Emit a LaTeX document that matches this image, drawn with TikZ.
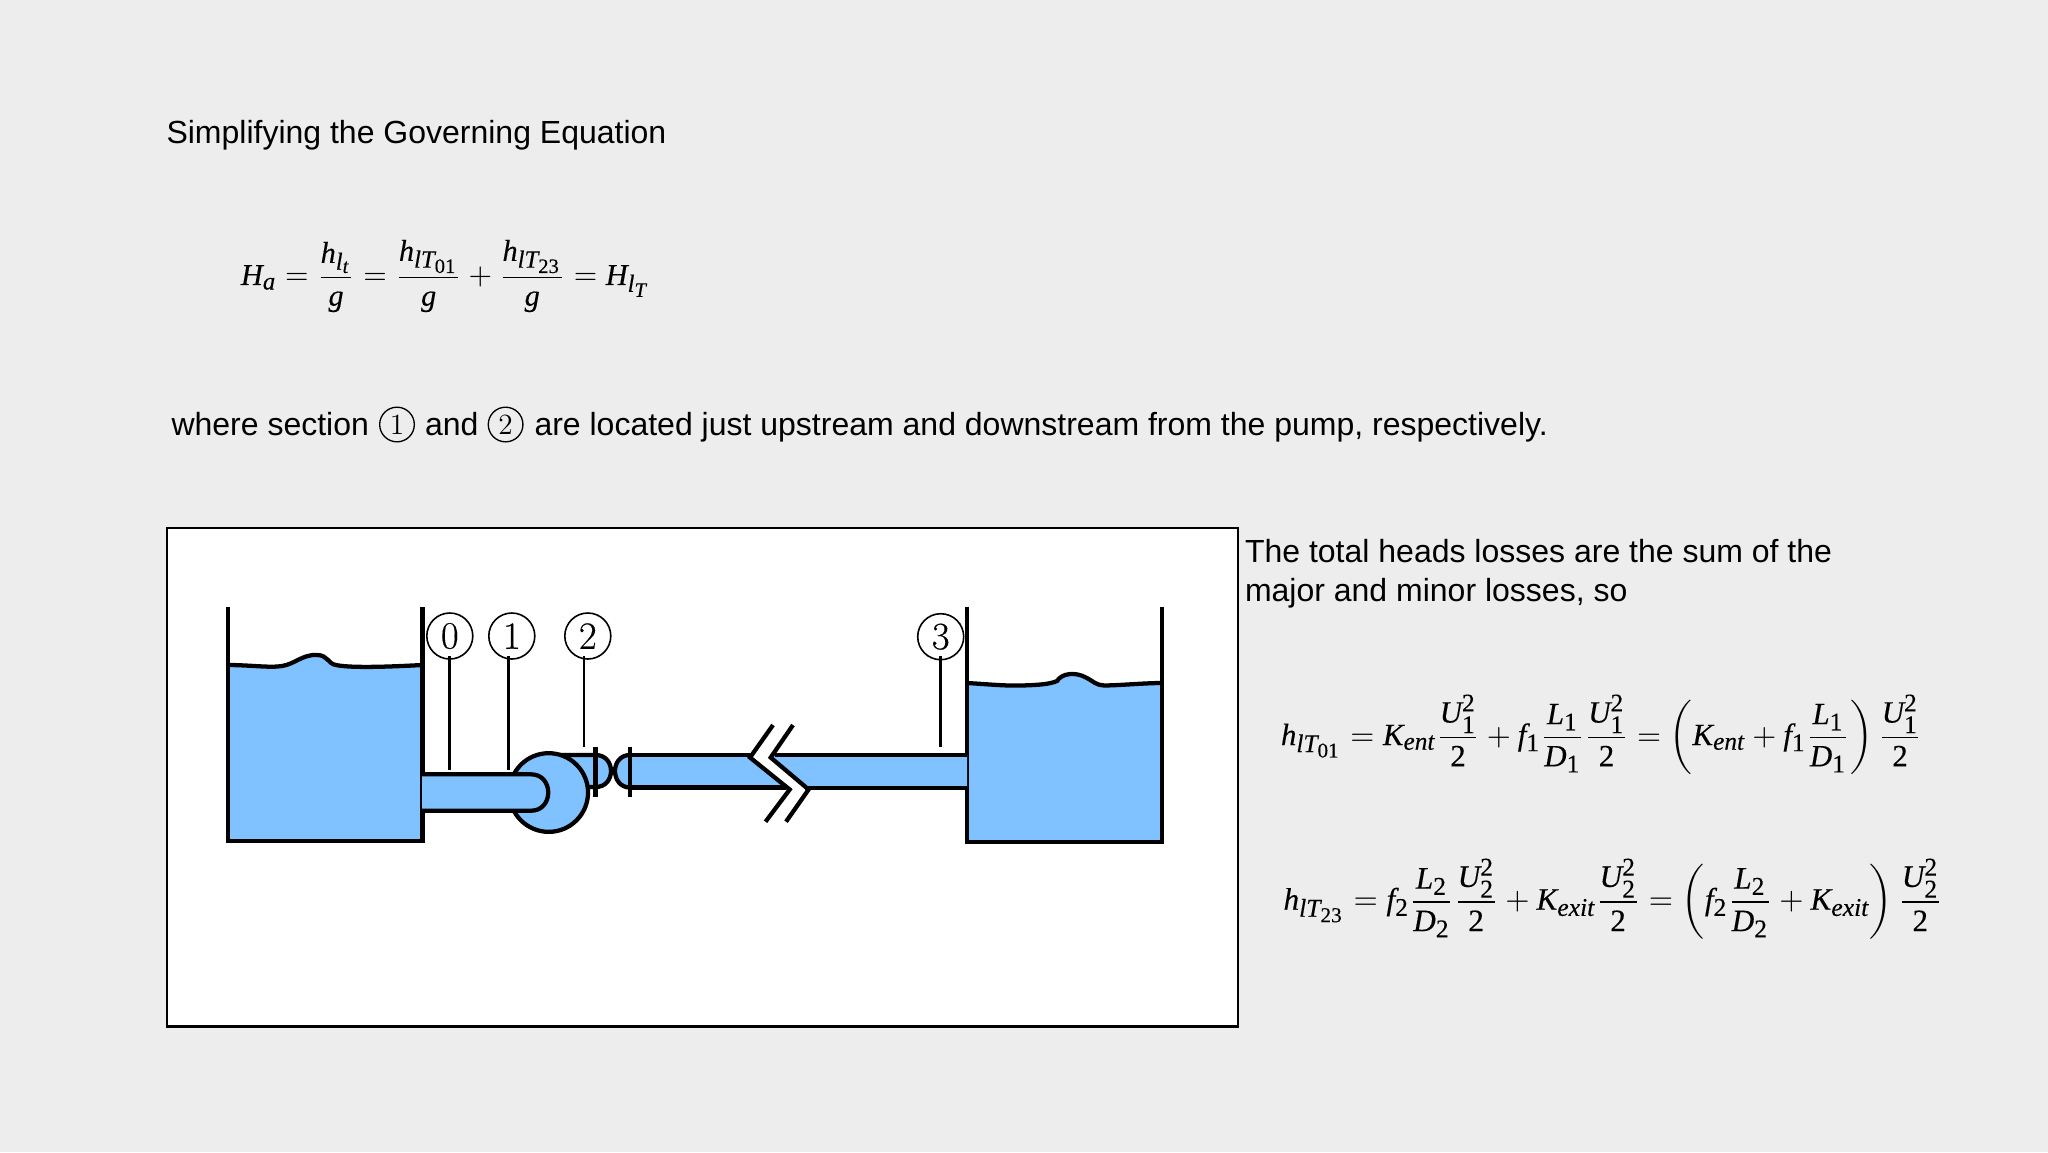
\documentclass[tikz,border=0pt]{standalone}
\usepackage[no-math]{fontspec}
\usepackage{amsmath}
\usepackage{graphicx}
\DeclareMathSizes{10}{10}{8.2}{6.8}
\newfontfamily\bodyfont{Liberation Sans}
\newfontfamily\markfont{Latin Modern Roman}[FakeBold=0.3]
\newfontfamily\mserif{Liberation Serif}[NFSSFamily=LibSerM,FakeBold=0.25]
\DeclareSymbolFont{serifit}{TU}{LibSerM}{m}{it}
\DeclareSymbolFont{serifup}{TU}{LibSerM}{m}{n}
\DeclareMathSymbol{H}{\mathalpha}{serifit}{`H}
\DeclareMathSymbol{a}{\mathalpha}{serifit}{`a}
\DeclareMathSymbol{h}{\mathalpha}{serifit}{`h}
\DeclareMathSymbol{l}{\mathalpha}{serifit}{`l}
\DeclareMathSymbol{t}{\mathalpha}{serifit}{`t}
\DeclareMathSymbol{g}{\mathalpha}{serifit}{`g}
\DeclareMathSymbol{T}{\mathalpha}{serifit}{`T}
\DeclareMathSymbol{K}{\mathalpha}{serifit}{`K}
\DeclareMathSymbol{e}{\mathalpha}{serifit}{`e}
\DeclareMathSymbol{n}{\mathalpha}{serifit}{`n}
\DeclareMathSymbol{f}{\mathalpha}{serifit}{`f}
\DeclareMathSymbol{U}{\mathalpha}{serifit}{`U}
\DeclareMathSymbol{L}{\mathalpha}{serifit}{`L}
\DeclareMathSymbol{D}{\mathalpha}{serifit}{`D}
\DeclareMathSymbol{x}{\mathalpha}{serifit}{`x}
\DeclareMathSymbol{i}{\mathalpha}{serifit}{`i}
\DeclareMathSymbol{0}{\mathalpha}{serifup}{`0}
\DeclareMathSymbol{1}{\mathalpha}{serifup}{`1}
\DeclareMathSymbol{2}{\mathalpha}{serifup}{`2}
\DeclareMathSymbol{3}{\mathalpha}{serifup}{`3}
\definecolor{pagebg}{HTML}{EDEDED}
\definecolor{water}{HTML}{80C2FF}
\tikzset{
  x=0.375pt,y=-0.375pt,
  heavy/.style={line width=1.6pt,line join=miter,line cap=butt},
  watershape/.style={fill=water,draw=none},
  leader/.style={line width=1.05pt},
  secmark/.style={circle,draw=black,line width=0.6pt,fill=white,minimum size=17.25pt,inner sep=0pt,font=\markfont\fontsize{14.5}{16}\selectfont},
  inlinemark/.style={circle,draw=black,line width=0.5pt,minimum size=13pt,inner sep=0pt,font=\fontsize{11}{13}\selectfont},
  bodytext/.style={anchor=base west,inner sep=0pt,font=\bodyfont\fontsize{12}{14}\selectfont},
  eqn/.style={inner sep=0pt}
}
\begin{document}
\begin{tikzpicture}
\useasboundingbox (0,0) rectangle (2048,1152);
\fill[pagebg] (0,0) rectangle (2048,1152);

% texts
\node[bodytext] (title) at (166,143) {Simplifying the Governing Equation};
\node[bodytext] (w1) at (171,435.4) {where section};
\node[inlinemark] (m1) at (397,424.5) {1};
\node[bodytext] (w2) at (424.5,435.4) {and};
\node[inlinemark] (m2) at (505.6,424.5) {2};
\node[bodytext] (w3) at (534,435.4) {are located just upstream and downstream from the pump, respectively.};
\node[bodytext] (t1) at (1244.5,562.5) {The total heads losses are the sum of the};
\node[bodytext] (t2) at (1244.5,601) {major and minor losses, so};

% equations
\node[eqn] (eq1) at (445,276) {\resizebox{153pt}{!}{$\displaystyle H_a=\frac{h_{l_t}}{g}=\frac{h_{lT_{01}}}{g}+\frac{h_{lT_{23}}}{g}=H_{l_T}$}};
\node[eqn] (eq2) at (1601.5,734.5) {\resizebox{240.4pt}{!}{$\displaystyle h_{lT_{01}}=K_{ent}\frac{U_1^2}{2}+f_1\frac{L_1}{D_1}\frac{U_1^2}{2}=\left(K_{ent}+f_1\frac{L_1}{D_1}\right)\frac{U_1^2}{2}$}};
\node[eqn] (eq3) at (1613,899) {\resizebox{247.1pt}{!}{$\displaystyle h_{lT_{23}}=f_2\frac{L_2}{D_2}\frac{U_2^2}{2}+K_{exit}\frac{U_2^2}{2}=\left(f_2\frac{L_2}{D_2}+K_{exit}\right)\frac{U_2^2}{2}$}};

% frame
\draw[fill=white,line width=0.8pt] (167,528) rectangle (1238,1026.5);

% left tank
\fill[watershape] (228,665) .. controls (250,665) and (270,668) .. (282,666)
  .. controls (295,664) and (303,654) .. (317,655)
  .. controls (328,655) and (328,664) .. (336,665)
  .. controls (350,668) and (385,667) .. (422,665) -- (422,841) -- (228,841) -- cycle;
\draw[line width=1.6pt] (228,665) .. controls (250,665) and (270,668) .. (282,666)
  .. controls (295,664) and (303,654) .. (317,655)
  .. controls (328,655) and (328,664) .. (336,665)
  .. controls (350,668) and (385,667) .. (422,665);
\draw[heavy] (228,606.7) -- (228,841.3) -- (422.4,841.3) -- (422.4,606.7);

% right tank
\fill[watershape] (967,683) .. controls (985,684) and (1005,686) .. (1021,685.5)
  .. controls (1040,685) and (1050,684) .. (1057,681)
  .. controls (1062,673) and (1075,672) .. (1085,677)
  .. controls (1095,682) and (1095,685) .. (1105,685.5)
  .. controls (1125,685) and (1145,683) .. (1162,683) -- (1162,841) -- (967,841) -- cycle;
\draw[line width=1.6pt] (967,683) .. controls (985,684) and (1005,686) .. (1021,685.5)
  .. controls (1040,685) and (1050,684) .. (1057,681)
  .. controls (1062,673) and (1075,672) .. (1085,677)
  .. controls (1095,682) and (1095,685) .. (1105,685.5)
  .. controls (1125,685) and (1145,683) .. (1162,683);
\draw[heavy] (967.2,606.7) -- (967.2,841.7) -- (1162,841.7) -- (1162,606.7);

% outlet stub and its flange
\fill[watershape] (550,755) -- (595.5,755) .. controls (606,755) and (611,763) .. (611,771)
  .. controls (611,779) and (606,787) .. (595.5,787) -- (550,787) -- cycle;
\draw[heavy] (550,755) -- (595.5,755) .. controls (606,755) and (611,763) .. (611,771)
  .. controls (611,779) and (606,787) .. (595.5,787) -- (550,787);
\draw[heavy] (595.5,746.7) -- (595.5,796.7);

% pipe after the pump, with its flange and break
\fill[watershape] (630,755) .. controls (620,755) and (615,763) .. (615,771)
  .. controls (615,779) and (620,787.5) .. (630,787.5) -- (789,787.5) -- (750,755) -- cycle;
\draw[heavy] (630,755) .. controls (620,755) and (615,763) .. (615,771)
  .. controls (615,779) and (620,787.5) .. (630,787.5);
\draw[heavy] (630,755) -- (750,755);
\draw[heavy] (630,787.5) -- (786,787.5);
\draw[heavy] (630,746.7) -- (630,796.7);
\draw[heavy] (773,725) -- (750,757.5) -- (789.7,789.5) -- (765.5,821.7);

\fill[watershape] (771,755) -- (967,755) -- (967,787.7) -- (808,787.7) -- cycle;
\draw[heavy] (775,755) -- (967,755);
\draw[heavy] (805,787.7) -- (967,787.7);
\draw[heavy] (793,725) -- (770.7,757.5) -- (808.6,789.5) -- (786,821.7);

% pump
\node[circle,fill=water,draw=black,line width=1.6pt,minimum size=29.5pt,inner sep=0pt] (pump) at (548.7,792.5) {};

% inlet pipe
\fill[watershape] (422,774.3) -- (531,774.3) .. controls (554,774.3) and (554,810.7) .. (531,810.7) -- (422,810.7) -- cycle;
\draw[heavy] (422,774.3) -- (531,774.3) .. controls (554,774.3) and (554,810.7) .. (531,810.7) -- (422,810.7);

% section marks
\node[secmark] (n0) at (449.8,636) {0};
\node[secmark] (n1) at (511.8,636) {1};
\node[secmark] (n2) at (587.8,636) {2};
\node[secmark] (n3) at (940.7,636.7) {3};
\coordinate (s0) at (449.8,656);
\coordinate (e0) at (449.8,770);
\coordinate (s1) at (508.6,656);
\coordinate (e1) at (508.6,770);
\coordinate (s2) at (584,656);
\coordinate (e2) at (584,747);
\coordinate (s3) at (940.7,656);
\coordinate (e3) at (940.7,746.7);
\draw[leader] (s0) -- (e0);
\draw[leader] (s1) -- (e1);
\draw[leader] (s2) -- (e2);
\draw[leader] (s3) -- (e3);
\end{tikzpicture}
\end{document}
